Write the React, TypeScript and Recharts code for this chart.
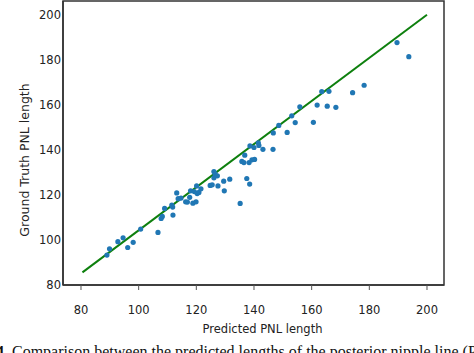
import React from "react";
import {
  ScatterChart,
  Scatter,
  XAxis,
  YAxis,
  ReferenceLine,
  ReferenceArea,
} from "recharts";

// Predicted PNL length (x) and ground truth PNL length (y)
const predicted = [
  89.0, 89.9, 92.8, 94.6, 96.2, 98.1, 100.7, 106.7, 107.8, 108.2, 109.0, 111.5,
  111.8, 111.9, 113.2, 113.7, 114.7, 116.3, 116.9, 117.7, 118.0, 118.8, 119.3,
  119.9, 120.1, 120.3, 120.9, 121.6, 124.8, 125.5, 126.1, 126.1, 126.5, 127.3,
  127.5, 129.5, 129.7, 131.6, 135.2, 135.8, 136.5, 136.8, 137.5, 138.3, 138.5,
  138.6, 139.3, 140.0, 140.2, 141.5, 141.7, 143.1, 146.7, 146.6, 148.6, 151.5,
  153.1, 154.3, 155.9, 160.6, 161.9, 163.5, 165.4, 166.0, 168.4, 174.2, 178.2,
  189.6, 193.7,
];
const groundTruth = [
  93.3, 96.1, 99.3, 101.0, 96.7, 99.0, 104.9, 103.4, 109.6, 110.5, 114.1, 115.6,
  114.7, 111.1, 121.0, 118.4, 118.7, 117.0, 116.9, 119.0, 121.9, 116.4, 121.6,
  117.0, 124.1, 120.7, 121.2, 122.8, 124.3, 124.6, 130.5, 127.7, 129.5, 128.6,
  124.1, 126.2, 121.9, 127.1, 116.3, 135.0, 134.5, 137.8, 127.4, 134.5, 124.9,
  141.9, 135.7, 141.2, 135.9, 143.3, 142.1, 140.4, 147.7, 140.4, 151.0, 147.9,
  155.3, 152.3, 159.3, 152.4, 160.1, 166.1, 159.6, 166.2, 159.1, 165.6, 168.9,
  187.9, 181.6,
];

// Fitted line end points
const fitX = [80.5, 200.0];
const fitY = [85.6, 200.3];

const xTicks = [80, 100, 120, 140, 160, 180, 200];
const yTicks = [80, 100, 120, 140, 160, 180, 200];
const xDomain = [73.76, 205.9];
const yDomain = [80, 206.4];

const points = predicted.map((x, i) => ({ x, y: groundTruth[i] }));
const segment = fitX.map((x, i) => ({ x, y: fitY[i] }));

const axisFont = { fontFamily: "DejaVu Sans", fontSize: 11.5, fill: "#222" };

export default function App() {
  return (
    <div
      style={{
        position: "absolute",
        left: 0,
        top: 0,
        width: 474,
        height: 353,
        overflow: "hidden",
        background: "#fff",
      }}
    >
      <ScatterChart
        width={474}
        height={353}
        margin={{ top: 1, right: 30, bottom: 0, left: 8 }}
      >
        <XAxis
          type="number"
          dataKey="x"
          domain={xDomain}
          ticks={xTicks}
          allowDataOverflow
          height={68}
          tickSize={5}
          tickMargin={16}
          tick={axisFont}
          axisLine={{ stroke: "#333", strokeWidth: 1.5 }}
          tickLine={{ stroke: "#555" }}
          label={{
            value: "Predicted PNL length",
            position: "insideBottom",
            offset: 20,
            dx: 9,
            style: { fontFamily: "DejaVu Sans", fontSize: 11.5, fill: "#222" },
          }}
        />
        <YAxis
          type="number"
          dataKey="y"
          domain={yDomain}
          ticks={yTicks}
          allowDataOverflow
          width={55}
          tickSize={0}
          tickMargin={2}
          tick={axisFont}
          axisLine={{ stroke: "#333", strokeWidth: 1.5 }}
          tickLine={false}
          label={{
            value: "Ground Truth PNL length",
            angle: -90,
            position: "center",
            dx: -11,
            dy: 17,
            style: { fontFamily: "DejaVu Sans", fontSize: 12.5, fill: "#222" },
          }}
        />
        <ReferenceArea
          x1={xDomain[0]}
          x2={xDomain[1]}
          y1={yDomain[0]}
          y2={yDomain[1]}
          fill="none"
          stroke="#333"
          strokeWidth={1.5}
          fillOpacity={0}
          ifOverflow="visible"
        />
        <ReferenceLine
          segment={segment}
          stroke="#0e800e"
          strokeWidth={2}
          ifOverflow="visible"
        />
        <Scatter
          data={points}
          fill="#2077b4"
          isAnimationActive={false}
          shape={(p: any) => (
            <circle cx={p.cx} cy={p.cy} r={2.6} fill="#2077b4" />
          )}
        />
      </ScatterChart>
      <div
        style={{
          position: "absolute",
          left: -4,
          top: 344,
          whiteSpace: "nowrap",
          fontFamily: "Liberation Serif",
          fontSize: 16,
          lineHeight: "16px",
          color: "#111",
        }}
      >
        <span style={{ fontWeight: "bold", marginRight: 8 }}>4</span>
        Comparison between the predicted lengths of the posterior nipple line (PNL)
      </div>
    </div>
  );
}
